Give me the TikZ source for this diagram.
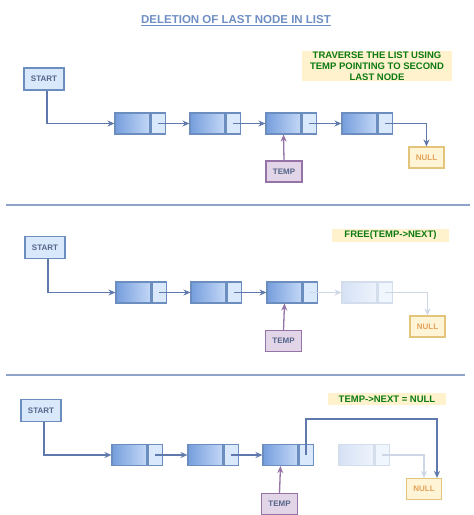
\documentclass[tikz,border=0pt]{standalone}
\usepackage{fontspec}
\setmainfont{Liberation Sans}
\usetikzlibrary{arrows.meta}
\definecolor{nstroke}{HTML}{6C8EBF}
\definecolor{gL}{HTML}{769EDD}
\definecolor{gR}{HTML}{C4D8F6}
\definecolor{pF}{HTML}{DAE8FC}
\definecolor{cconn}{HTML}{6079AD}
\definecolor{tstroke}{HTML}{9673A6}
\definecolor{tfill}{HTML}{E1D5E7}
\definecolor{txtc}{HTML}{55658A}
\definecolor{nullfill}{HTML}{FFF4D6}
\definecolor{nullstroke}{HTML}{E2C57A}
\definecolor{nulltxt}{HTML}{E3A35A}
\definecolor{notefill}{HTML}{FFF2CC}
\definecolor{notetxt}{HTML}{0B7A12}
\definecolor{titlec}{HTML}{6F8FC4}
\definecolor{sepc}{HTML}{8EA3C8}
\colorlet{fstroke}{nstroke!30!white}
\colorlet{fgL}{gL!30!white}
\colorlet{fgR}{gR!30!white}
\colorlet{fpF}{pF!40!white}
\colorlet{fconnc}{cconn!30!white}
\tikzset{
  mainp/.style={draw=nstroke, line width=1.1pt, minimum width=35pt, minimum height=21pt, inner sep=0pt, left color=gL, right color=gR},
  ptrp/.style={draw=nstroke, line width=1.1pt, minimum width=14pt, minimum height=21pt, inner sep=0pt, fill=pF},
  fmainp/.style={draw=fstroke, line width=1.1pt, minimum width=35pt, minimum height=21pt, inner sep=0pt, left color=fgL, right color=fgR},
  fptrp/.style={draw=fstroke, line width=1.1pt, minimum width=14pt, minimum height=21pt, inner sep=0pt, fill=fpF},
  conn/.style={draw=cconn, line width=1.3pt, -{Stealth[length=7pt,width=6pt]}},
  fconn/.style={draw=fconnc, line width=1.3pt, -{Stealth[length=7pt,width=6pt]}},
  tconn/.style={draw=tstroke, line width=1.3pt, -{Stealth[length=7pt,width=6pt]}},
  lbl/.style={font=\bfseries\fontsize{8}{9}\selectfont, inner sep=0pt, line width=1.1pt},
  startb/.style={lbl, draw=nstroke, fill=pF, text=txtc, minimum width=40pt, minimum height=22pt},
  tempb/.style={lbl, draw=tstroke, fill=tfill, text=txtc, minimum width=36pt, minimum height=21pt},
  nullb/.style={lbl, draw=nullstroke, fill=nullfill, text=nulltxt, minimum width=35pt, minimum height=21pt},
  noteb/.style={fill=notefill, text=notetxt, font=\bfseries\fontsize{9.5}{11}\selectfont, align=center, inner sep=0pt},
  sepline/.style={draw=sepc, line width=1.5pt},
}
\begin{document}
\begin{tikzpicture}[x=1pt,y=-1pt]
\useasboundingbox (0,0) rectangle (474,515);
\fill[white] (0,0) rectangle (474,515);
% title
\node[text=titlec, font=\bfseries\fontsize{11.5}{13}\selectfont, inner sep=0pt] (title) at (236,21) {\underline{DELETION OF LAST NODE IN LIST}};

% ================= panel 1
\node[noteb, minimum width=150pt, minimum height=30pt] (note1) at (377,66) {TRAVERSE THE LIST USING\\TEMP POINTING TO SECOND\\LAST NODE};
\node[startb] (s1) at (44,79) {START};
\node[mainp] (a1) at (132.5,123.5) {};
\node[ptrp, anchor=west] (a1p) at (a1.east) {};
\node[mainp] (a2) at (207.5,123.5) {};
\node[ptrp, anchor=west] (a2p) at (a2.east) {};
\node[mainp] (a3) at (283.5,123.5) {};
\node[ptrp, anchor=west] (a3p) at (a3.east) {};
\node[mainp] (a4) at (359.5,123.5) {};
\node[ptrp, anchor=west] (a4p) at (a4.east) {};
\node[tempb] (t1) at (284,171.5) {TEMP};
\node[nullb] (n1) at (426.5,157.5) {NULL};
\draw[conn] ([xshift=3pt]s1.south) |- (a1.west);
\draw[conn] (a1p.center) -- (a2.west);
\draw[conn] (a2p.center) -- (a3.west);
\draw[conn] (a3p.center) -- (a4.west);
\draw[conn] (a4p.center) -| (n1.north);
\draw[tconn] (t1.north) -- (a3.south);

\coordinate (sep1a) at (6,205);
\coordinate (sep1b) at (470,205);
\draw[sepline] (sep1a) -- (sep1b);

% ================= panel 2
\node[noteb, minimum width=117pt, minimum height=13pt] (note2) at (390.5,235.5) {FREE(TEMP->NEXT)};
\node[startb] (s2) at (45,247.5) {START};
\node[mainp] (b1) at (133.5,292.5) {};
\node[ptrp, anchor=west] (b1p) at (b1.east) {};
\node[mainp] (b2) at (208.5,292.5) {};
\node[ptrp, anchor=west] (b2p) at (b2.east) {};
\node[mainp] (b3) at (284.5,292.5) {};
\node[ptrp, anchor=west] (b3p) at (b3.east) {};
\node[fmainp] (b4) at (359.5,292.5) {};
\node[fptrp, anchor=west] (b4p) at (b4.east) {};
\node[tempb] (t2) at (283.5,341) {TEMP};
\node[nullb] (n2) at (427.5,326.5) {NULL};
\draw[conn] ([xshift=3pt]s2.south) |- (b1.west);
\draw[conn] (b1p.center) -- (b2.west);
\draw[conn] (b2p.center) -- (b3.west);
\draw[fconn] (b3p.center) -- (b4.west);
\draw[fconn] (b4p.center) -| (n2.north);
\draw[tconn] (t2.north) -- (b3.south);

\coordinate (sep2a) at (6,375);
\coordinate (sep2b) at (465,375);
\draw[sepline] (sep2a) -- (sep2b);

% ================= panel 3
\node[noteb, minimum width=118pt, minimum height=12pt] (note3) at (387,399) {TEMP->NEXT = NULL};
\node[startb] (s3) at (41,410.5) {START};
\node[mainp] (c1) at (129.5,455) {};
\node[ptrp, anchor=west] (c1p) at (c1.east) {};
\node[mainp] (c2) at (205.5,455) {};
\node[ptrp, anchor=west] (c2p) at (c2.east) {};
\node[mainp] (c3) at (280.5,455) {};
\node[ptrp, anchor=west] (c3p) at (c3.east) {};
\node[fmainp] (c4) at (356.5,455) {};
\node[fptrp, anchor=west] (c4p) at (c4.east) {};
\node[tempb] (t3) at (279.5,504) {TEMP};
\node[nullb] (n3) at (424,489) {NULL};
\coordinate (bend3) at (437,419);
\draw[conn] ([xshift=3pt]s3.south) |- (c1.west);
\draw[conn] (c1p.center) -- (c2.west);
\draw[conn] (c2p.center) -- (c3.west);
\draw[fconn] (c4p.center) -| (n3.north);
\draw[conn] (c3p.center) |- (bend3) -- (bend3 |- n3.north);
\draw[tconn] (t3.north) -- (c3.south);
\end{tikzpicture}
\end{document}
